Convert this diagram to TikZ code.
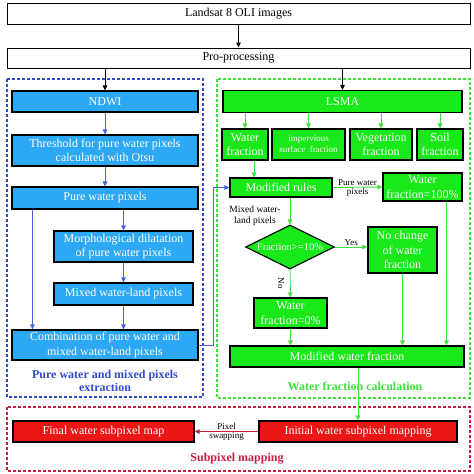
\documentclass[tikz,border=0pt]{standalone}
\usepackage{fontspec}
\setmainfont{Liberation Serif}
\usetikzlibrary{shapes.geometric,arrows.meta}
\definecolor{ndwiblue}{RGB}{45,168,245}
\definecolor{lsmagreen}{RGB}{25,232,25}
\definecolor{mapred}{RGB}{235,22,22}
\definecolor{frameblue}{RGB}{50,75,200}
\definecolor{lineblue}{RGB}{70,100,225}
\definecolor{linegreen}{RGB}{60,225,60}
\definecolor{framered}{RGB}{200,30,65}
\begin{document}
\begin{tikzpicture}[x=1pt,y=-1pt,
    >={Triangle[length=5pt,width=4.5pt]},
    box/.style={draw=black,line width=1.1pt,inner sep=1pt,align=center,text=white,
      font=\fontsize{12}{14.5}\selectfont},
    whitebox/.style={box,fill=white,text=black,line width=0.9pt},
    bluebox/.style={box,fill=ndwiblue},
    greenbox/.style={box,fill=lsmagreen},
    redbox/.style={box,fill=mapred},
    lbl/.style={font=\fontsize{9}{10}\selectfont,align=center,inner sep=1pt},
    frametitle/.style={font=\fontsize{12}{13.5}\selectfont\bfseries,align=center},
    bluearrow/.style={->,draw=lineblue,line width=0.9pt},
    greenarrow/.style={->,draw=linegreen,line width=0.9pt},
    redarrow/.style={->,draw=framered,line width=0.9pt},
    frame/.style={line width=1.3pt,dash pattern=on 3pt off 2pt}]
  \useasboundingbox (0,0) rectangle (474,474);

  \draw[frame,frameblue] (7,79) rectangle (203,397);
  \draw[frame,linegreen] (217,79) rectangle (470,398);
  \draw[frame,framered] (7,407) rectangle (470,471);

  \node[whitebox,minimum width=463pt,minimum height=21pt] (land) at (238.5,13.5) {Landsat 8 OLI images};
  \node[whitebox,minimum width=463pt,minimum height=20pt] (pre) at (238.5,58) {Pro-processing};

  \node[bluebox,minimum width=186pt,minimum height=21pt] (ndwi) at (105,101.5) {NDWI};
  \node[bluebox,minimum width=186pt,minimum height=31pt] (thr) at (105,150.5) {Threshold for pure water pixels\\calculated with Otsu};
  \node[bluebox,minimum width=186pt,minimum height=22pt] (pure) at (105,198) {Pure water pixels};
  \node[bluebox,minimum width=139pt,minimum height=31pt] (morph) at (123.5,246.5) {Morphological dilatation\\of pure water pixels};
  \node[bluebox,minimum width=139pt,minimum height=22pt] (mixed) at (123.5,294) {Mixed water-land pixels};
  \node[bluebox,minimum width=186pt,minimum height=30pt] (comb) at (105,345) {Combination of pure water and\\mixed water-land pixels};
  \node[frametitle,text=frameblue] (extr) at (105,381) {Pure water and mixed pixels\\extraction};

  \node[greenbox,minimum width=239pt,minimum height=22pt] (lsma) at (342.5,101.5) {LSMA};
  \node[greenbox,minimum width=46pt,minimum height=31pt] (wfrac) at (245,144.5) {Water\\fraction};
  \node[greenbox,minimum width=73pt,minimum height=31pt,font=\fontsize{9}{11}\selectfont] (imp) at (308.5,144.5) {impervious\\surface~ fraction};
  \node[greenbox,minimum width=62pt,minimum height=31pt] (veg) at (381,144.5) {Vegetation\\fraction};
  \node[greenbox,minimum width=46pt,minimum height=31pt] (soil) at (440,144.5) {Soil\\fraction};
  \node[greenbox,minimum width=102pt,minimum height=19pt] (rules) at (281,187.5) {Modified rules};
  \node[greenbox,minimum width=79pt,minimum height=28pt] (full) at (422.5,187) {Water\\fraction=100\%};
  \node[greenbox,diamond,aspect=2,inner sep=0pt,minimum width=89pt,minimum height=44pt,font=\fontsize{10.5}{12}\selectfont] (test) at (290,247) {Fraction>=10\%};
  \node[greenbox,minimum width=69pt,minimum height=46pt] (keep) at (402.5,250) {No change\\of water\\fraction};
  \node[greenbox,minimum width=73pt,minimum height=30pt] (zero) at (290.5,313) {Water\\fraction=0\%};
  \node[greenbox,minimum width=234pt,minimum height=21pt] (mwf) at (347,356.5) {Modified water fraction};
  \node[frametitle,text=linegreen] (calc) at (355,386) {Water fraction calculation};

  \node[redbox,minimum width=198pt,minimum height=21pt] (init) at (358,431.5) {Initial water subpixel mapping};
  \node[redbox,minimum width=181pt,minimum height=21pt] (final) at (103.5,431.5) {Final water subpixel map};
  \node[frametitle,text=framered] (spm) at (237,459) {Subpixel mapping};

  \node[lbl,font=\fontsize{9.5}{10.5}\selectfont] (mixlbl) at (255,215.5) {Mixed water-\\land pixels};
  \node[lbl,rotate=-90] (nolbl) at (281,283) {No};

  \draw[->,line width=0.9pt] (land) to (pre);
  \draw[->,line width=0.9pt] (pre.south -| ndwi) to (ndwi);
  \draw[->,line width=0.9pt] (pre.south -| lsma) to (lsma);

  \draw[bluearrow] (ndwi) to (thr);
  \draw[bluearrow] (thr) to (pure);
  \draw[bluearrow] (pure.south -| morph) to (morph);
  \draw[bluearrow] (morph) to (mixed);
  \draw[bluearrow] (mixed.south) to (mixed.south |- comb.north);
  \draw[bluearrow] ([xshift=21pt]pure.south west) to ([xshift=21pt]comb.north west);
  \draw[bluearrow] (comb.east) -- ++(15,0) |- (rules.west);

  \draw[greenarrow] (lsma.south -| wfrac) to (wfrac);
  \draw[greenarrow] (lsma.south -| imp) to (imp);
  \draw[greenarrow] (lsma.south -| veg) to (veg);
  \draw[greenarrow] (lsma.south -| soil) to (soil);
  \draw[greenarrow] (wfrac.south -| 254,0) to (rules.north -| 254,0);
  \draw[greenarrow] (rules.east) to node[lbl,above,text=black] {Pure water} node[lbl,below,text=black] {pixels} (full.west);
  \draw[greenarrow] (rules.south -| test) to (test);
  \draw[greenarrow] (test.east) to node[lbl,above,text=black] {Yes} (keep.west |- test.east);
  \draw[greenarrow] (test) to (zero);
  \draw[greenarrow] (zero) to (zero.south |- mwf.north);
  \draw[greenarrow] (keep) to (keep.south |- mwf.north);
  \draw[greenarrow] ([xshift=24pt]full.south) to ([xshift=24pt]full.south |- mwf.north);
  \draw[greenarrow] (init.north |- mwf.south) to (init);

  \draw[redarrow] (init) to node[lbl,above,text=black] {Pixel} node[lbl,below,text=black] {swapping} (final);
\end{tikzpicture}
\end{document}
